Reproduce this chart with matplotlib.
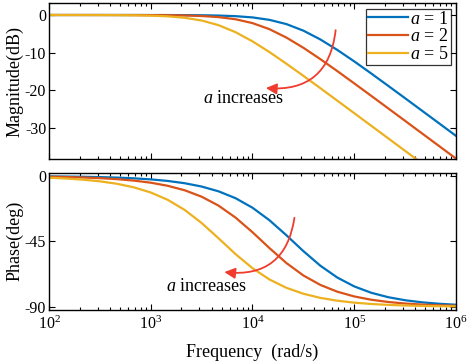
import matplotlib
matplotlib.use('Agg')
import matplotlib.pyplot as plt

plt.rcParams['font.family'] = 'Liberation Serif'
plt.rcParams['mathtext.fontset'] = 'custom'
plt.rcParams['mathtext.rm'] = 'Liberation Serif'
plt.rcParams['mathtext.it'] = 'Liberation Serif:italic'
plt.rcParams['axes.unicode_minus'] = False

# frequency points (rad/s)
freq = [100, 147, 215, 316, 464, 681, 1000, 1468, 2154, 3162, 4642, 6813,
        10000, 14678, 21544, 31623, 46416, 68129, 100000, 146780, 215440,
        316230, 464160, 681290, 1000000]

# magnitude (dB)
mag_a1 = [0.0, 0.0, 0.0, -0.001, -0.002, -0.003, -0.007, -0.015, -0.032, -0.069,
          -0.147, -0.31, -0.64, -1.29, -2.41, -4.15, -6.48, -9.26, -12.30,
          -15.50, -18.77, -22.07, -25.39, -28.71, -32.04]
mag_a2 = [0.0, -0.001, -0.001, -0.003, -0.006, -0.013, -0.028, -0.06, -0.127,
          -0.27, -0.56, -1.13, -2.15, -3.76, -5.99, -8.69, -11.70, -14.87,
          -18.13, -21.43, -24.74, -28.07, -31.40, -34.73, -38.06]
mag_a5 = [-0.002, -0.004, -0.008, -0.017, -0.037, -0.08, -0.17, -0.36, -0.74,
          -1.46, -2.70, -4.56, -6.99, -9.83, -12.92, -16.13, -19.40, -22.71,
          -26.03, -29.36, -32.69, -36.02, -39.35, -42.68, -46.02]

# phase (deg)
ph_a1 = [-0.23, -0.34, -0.49, -0.72, -1.06, -1.56, -2.29, -3.36, -4.93, -7.21,
         -10.52, -15.24, -21.80, -30.42, -40.76, -51.67, -61.70, -69.85,
         -75.96, -80.33, -83.38, -85.48, -86.92, -87.90, -88.57]
ph_a2 = [-0.46, -0.67, -0.99, -1.45, -2.13, -3.12, -4.57, -6.70, -9.78, -14.20,
         -20.37, -28.59, -38.66, -49.58, -59.88, -68.43, -74.93, -79.60,
         -82.87, -85.13, -86.68, -87.74, -88.46, -88.95, -89.28]
ph_a5 = [-1.15, -1.68, -2.47, -3.62, -5.30, -7.76, -11.31, -16.36, -23.31,
         -32.31, -42.87, -53.72, -63.43, -71.19, -76.93, -81.01, -83.85,
         -85.80, -87.14, -88.05, -88.67, -89.09, -89.38, -89.58, -89.71]

labels = ['$a$ = 1', '$a$ = 2', '$a$ = 5']
colors = ['#0072BD', '#D95319', '#EDB120']
arrow_color = '#F03C2E'

fig = plt.figure(figsize=(4.74, 3.63), dpi=100)
ax1 = fig.add_axes([0.1034, 0.5628, 0.8586, 0.4281])
ax2 = fig.add_axes([0.1034, 0.1468, 0.8586, 0.3774])

for m, c, l in zip([mag_a1, mag_a2, mag_a5], colors, labels):
    ax1.plot(freq, m, color=c, linewidth=1.6, label=l)
for p, c in zip([ph_a1, ph_a2, ph_a5], colors):
    ax2.plot(freq, p, color=c, linewidth=1.6)

for ax in (ax1, ax2):
    ax.set_xscale('log')
    ax.set_xlim(1e2, 1e6)
    ax.tick_params(which='both', direction='in', top=True, right=True,
                   labelsize=11.5, width=0.8)
    ax.tick_params(which='major', length=4, pad=2)
    ax.tick_params(which='minor', length=2)
    ax.tick_params(axis='x', which='major', pad=4)
    for s in ax.spines.values():
        s.set_linewidth(1.0)

ax1.set_ylim(-38.1, 3.1)
ax1.set_yticks([0, -10, -20, -30])
ax1.set_xticklabels([])
ax1.set_ylabel('Magnitude(dB)', fontsize=13, labelpad=1)

ax2.set_ylim(-92, 2.3)
ax2.set_yticks([0, -45, -90])
ax2.set_ylabel('Phase(deg)', fontsize=13, labelpad=1)
ax2.set_xlabel('Frequency  (rad/s)', fontsize=13, labelpad=8)

leg = ax1.legend(loc='upper right', fontsize=13, frameon=True, fancybox=False,
                 edgecolor='black', handlelength=2.2, handletextpad=0.15,
                 borderpad=0.1, labelspacing=0.05, borderaxespad=0.3)
leg.get_frame().set_linewidth(0.9)

# curved arrows with annotation
ax1.annotate('', xy=(0.526, 0.456), xytext=(0.705, 0.845),
             xycoords='axes fraction', textcoords='axes fraction',
             arrowprops=dict(arrowstyle='-|>', color=arrow_color, lw=1.3,
                             mutation_scale=16,
                             connectionstyle='arc3,rad=-0.5'))
ax1.text(0.477, 0.39, '$a$ increases', transform=ax1.transAxes,
         fontsize=13, ha='center', va='center')

ax2.annotate('', xy=(0.424, 0.277), xytext=(0.604, 0.691),
             xycoords='axes fraction', textcoords='axes fraction',
             arrowprops=dict(arrowstyle='-|>', color=arrow_color, lw=1.3,
                             mutation_scale=16,
                             connectionstyle='arc3,rad=-0.5'))
ax2.text(0.387, 0.173, '$a$ increases', transform=ax2.transAxes,
         fontsize=13, ha='center', va='center')

fig.savefig('out.png', dpi=100)
